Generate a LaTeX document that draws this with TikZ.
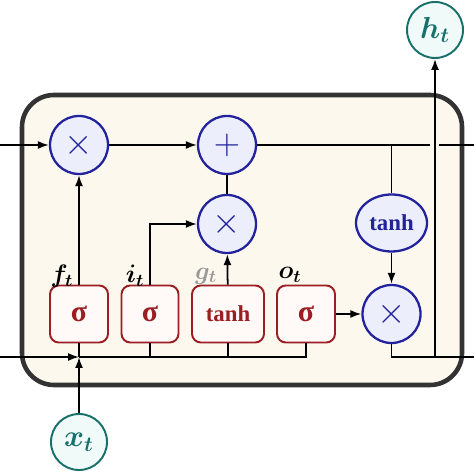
\documentclass[tikz,border=0pt]{standalone}
\usepackage{fontspec}
\setmainfont{Liberation Serif}
\usepackage{bm}
\usetikzlibrary{arrows.meta,shapes.geometric}

\definecolor{cellfill}{HTML}{FDF8EE}
\definecolor{opblue}{HTML}{22229C}
\definecolor{opfill}{HTML}{ECEEFB}
\definecolor{gatered}{HTML}{9A1E22}
\definecolor{gatefill}{HTML}{FFF9F7}
\definecolor{ioteal}{HTML}{17706A}
\definecolor{iofill}{HTML}{F0FAF8}

\newcommand{\sig}{{\fontsize{17}{18}\selectfont σ}}

\begin{document}
\begin{tikzpicture}[
  op/.style={circle, draw=opblue, fill=opfill, line width=1.3pt, minimum size=1.16cm, inner sep=0, text=opblue, font=\huge},
  gate/.style={rectangle, rounded corners=5pt, draw=gatered, fill=gatefill, line width=1.1pt, minimum height=1.14cm, inner sep=0, text=gatered, font=\fontsize{13}{15}\selectfont\bfseries},
  io/.style={circle, draw=ioteal, fill=iofill, line width=1.1pt, minimum size=1.12cm, inner sep=0, text=ioteal, font=\LARGE},
  gatelabel/.style={font=\Large},
  wire/.style={line width=1pt},
  >={Latex[length=2.2mm,width=1.6mm]}]

\useasboundingbox (0,0) rectangle (9.48,9.48);

% cell
\draw[fill=cellfill, draw=black!80, line width=2.6pt, rounded corners=0.64cm] (0.44,1.78) rectangle (9.24,7.58);

% pointwise operations
\node[op] (fm) at (1.58,6.58) {$\times$};
\node[op] (plus) at (4.54,6.58) {$+$};
\node[op] (im) at (4.54,5.0) {$\times$};
\node[op] (om) at (7.83,3.2) {$\times$};
\node[ellipse, draw=opblue, fill=opfill, line width=1.3pt, minimum width=1.42cm, minimum height=1.14cm, inner sep=0, text=opblue, font=\fontsize{13}{15}\selectfont\bfseries] (tanhc) at (7.83,5.02) {tanh};

% gates
\node[gate, minimum width=1.16cm] (gf) at (1.58,3.2) {\sig};
\node[gate, minimum width=1.14cm] (gi) at (3.0,3.2) {\sig};
\node[gate, minimum width=1.44cm] (gg) at (4.56,3.2) {tanh};
\node[gate, minimum width=1.16cm] (go) at (6.12,3.2) {\sig};

\node[gatelabel] (lf) at (1.24,3.96) {$\bm{f}_{\bm{t}}$};
\node[gatelabel] (li) at (2.7,3.96) {$\bm{i}_{\bm{t}}$};
\node[gatelabel, text=black!40] (lg) at (4.12,3.96) {$\bm{g}_{\bm{t}}$};
\node[gatelabel] (lo) at (5.8,3.98) {$\bm{o}_{\bm{t}}$};

% input and output
\node[io] (xt) at (1.58,0.64) {$\bm{x}_{\bm{t}}$};
\node[io] (ht) at (8.70,8.88) {$\bm{h}_{\bm{t}}$};

\coordinate (cin) at (0,6.58);
\coordinate (cout) at (9.48,6.58);
\coordinate (cgapl) at (8.60,6.58);
\coordinate (cgapr) at (8.78,6.58);
\coordinate (ctap) at (7.83,6.58);
\coordinate (hin) at (0,2.34);
\coordinate (hout) at (9.48,2.34);
\coordinate (fjoin) at (1.58,2.34);
\coordinate (ijoin) at (3.0,2.34);
\coordinate (gjoin) at (4.56,2.34);
\coordinate (hjoin) at (8.70,2.34);

% cell state
\draw[wire,->] (cin) -- (fm);
\draw[wire,->] (fm) -- (plus);
\draw[wire] (plus) -- (cgapl);
\draw[wire] (cgapr) -- (cout);
\draw[wire] (im) -- (plus);
\draw[wire] (ctap) -- (tanhc);
\draw[wire,->] (tanhc) -- (om);

% gates to operations
\draw[wire,->] (gf) -- (fm);
\draw[wire,->] (gi) |- (im);
\draw[wire,->] (gg) -- (im);
\draw[wire,->] (go) -- (om);

% hidden state and input
\draw[wire,->] (hin) -- (fjoin);
\draw[wire,->] (xt) -- (fjoin);
\draw[wire] (fjoin) -- (gf);
\draw[wire] (fjoin) -| (go);
\draw[wire] (ijoin) -- (gi);
\draw[wire] (gjoin) -- (gg);
\draw[wire] (om) |- (hout);
\draw[wire,->] (hjoin) -- (ht);

\end{tikzpicture}
\end{document}
